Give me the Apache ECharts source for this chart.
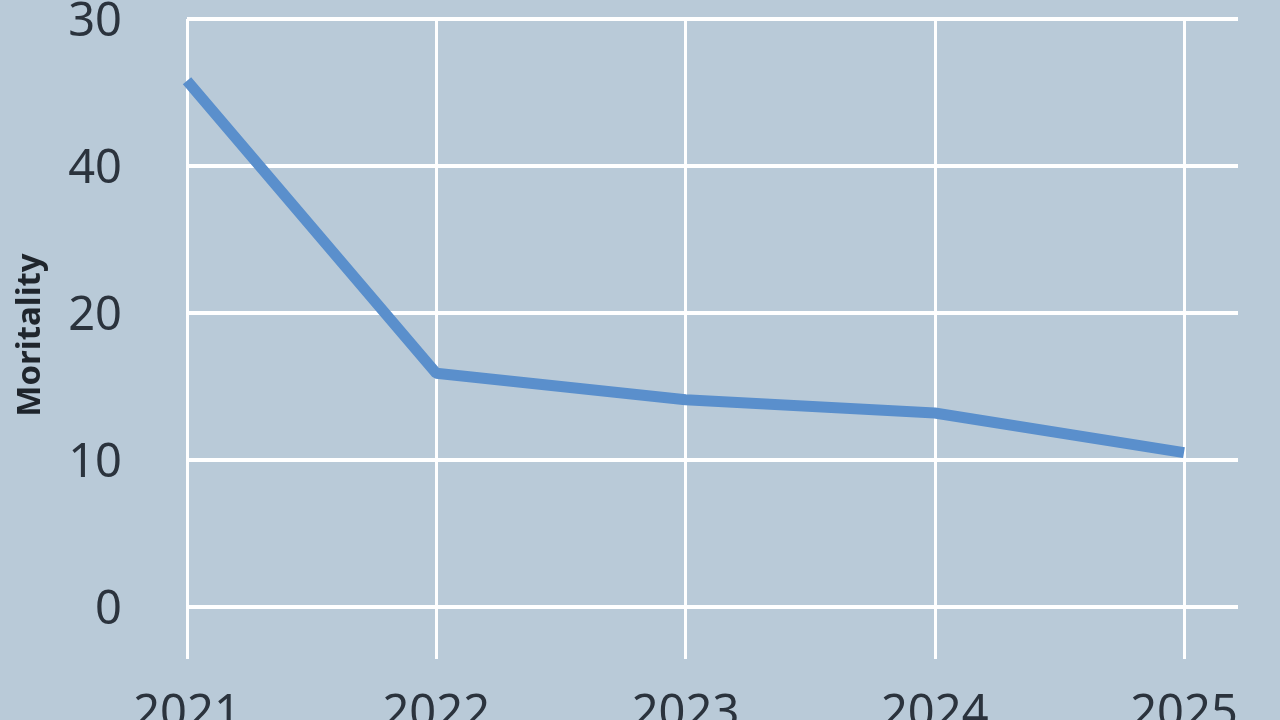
<!DOCTYPE html>
<html><head><meta charset="utf-8">
<script src="https://cdn.jsdelivr.net/npm/echarts@6/dist/echarts.min.js"></script>
<style>html,body{margin:0;padding:0;background:#b9cad8;}#c{width:1280px;height:720px;}</style>
</head><body><div id="c"></div>
<script>
const years = ['2021', '2022', '2023', '2024', '2025'];
const mortality = [35.8, 15.9, 14.1, 13.2, 10.5];
const yTickLabels = ['0', '10', '20', '40', '30'];
const yName = 'Moritality';

const chart = echarts.init(document.getElementById('c'));
const FONT = '"Noto Sans", "Open Sans", sans-serif';
chart.setOption({
  backgroundColor: '#b9cad8',
  animation: false,
  grid: [
    { left: 187, right: 42, top: 19, bottom: 113, outerBoundsMode: 'none', containLabel: false },
    { left: 187, right: 96, top: 19, bottom: 113, outerBoundsMode: 'none', containLabel: false }
  ],
  xAxis: [
    { gridIndex: 0, type: 'category', data: years, show: false },
    {
      gridIndex: 1, type: 'category', data: years, boundaryGap: false,
      axisLine: { show: false },
      axisTick: { show: true, length: 52, lineStyle: { color: '#ffffff', width: 3 } },
      splitLine: { show: true, lineStyle: { color: '#ffffff', width: 3 } },
      axisLabel: { margin: 84, fontSize: 47, color: '#2b333d', fontFamily: FONT }
    }
  ],
  yAxis: [
    {
      gridIndex: 0, type: 'value', min: 0, max: 40, interval: 10,
      name: yName, nameLocation: 'middle', nameGap: 140, nameRotate: 90,
      nameTextStyle: { fontSize: 33, fontWeight: 'bold', color: '#1f252c', fontFamily: FONT, padding: [0, 44, 0, 0] },
      axisLine: { show: false }, axisTick: { show: false },
      splitLine: { show: true, lineStyle: { color: '#ffffff', width: 4 } },
      axisLabel: {
        margin: 65, color: '#2b333d', fontFamily: FONT,
        formatter: v => '{t|' + yTickLabels[Math.round(v / 10)] + '}',
        rich: { t: { fontSize: 47, color: '#2b333d', fontFamily: FONT, padding: [8, 0, 0, 0] } }
      }
    },
    { gridIndex: 1, type: 'value', min: 0, max: 40, interval: 10, show: false, splitLine: { show: false } }
  ],
  series: [{
    type: 'line', xAxisIndex: 1, yAxisIndex: 1, data: mortality,
    symbol: 'none', lineStyle: { color: '#5a8fcc', width: 11 }
  }]
});
</script></body></html>
